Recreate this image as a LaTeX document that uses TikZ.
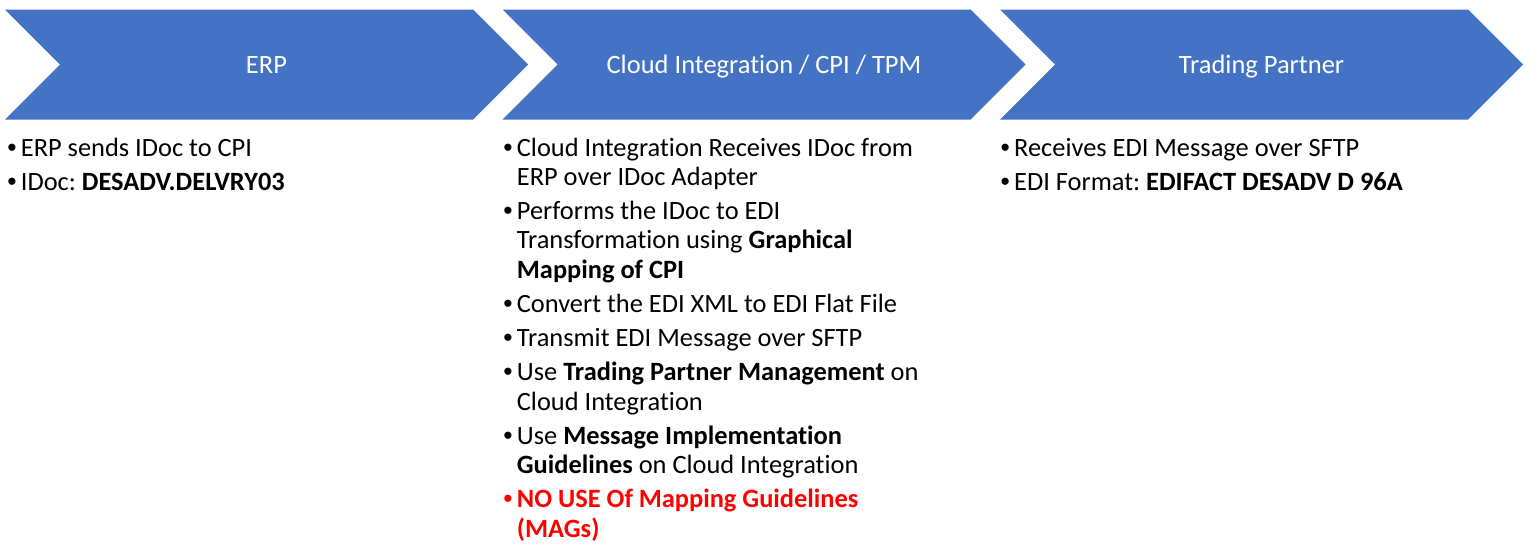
\documentclass[tikz,border=0pt]{standalone}
\usepackage{fontspec}
\setmainfont{Carlito}[Ligatures=NoCommon]
\newfontfamily\bulletfont{Liberation Sans}
\definecolor{chev}{HTML}{4472C4}
\definecolor{redt}{HTML}{FF0000}
\newcommand\bl{\makebox[13.5pt][l]{\bulletfont •}}
\newcommand\ind{\hspace*{13.5pt}}
\tikzset{
  chevron/.style={fill=chev},
  headlabel/.style={anchor=base, inner sep=0pt, text=white, font=\fontsize{26.5}{30}\selectfont},
  bodytext/.style={anchor=base west, inner sep=0pt, text=black}
}
\newcommand\colbox[1]{\parbox[t]{520pt}{\fontsize{26.4}{29.3}\selectfont\frenchspacing\raggedright #1}}
\begin{document}
\begin{tikzpicture}[x=1pt,y=-1pt]
\useasboundingbox (0,0) rectangle (1536,547);
% chevrons
\fill[chevron] (5,9.5) -- (473,9.5) -- (528,64.5) -- (473,119.5) -- (5,119.5) -- (60,64.5) -- cycle;
\fill[chevron] (502.5,9.5) -- (970.5,9.5) -- (1025.5,64.5) -- (970.5,119.5) -- (502.5,119.5) -- (557.5,64.5) -- cycle;
\fill[chevron] (1000,9.5) -- (1468,9.5) -- (1523,64.5) -- (1468,119.5) -- (1000,119.5) -- (1055,64.5) -- cycle;
\node[headlabel] (h1) at (266.5,73) {ERP};
\node[headlabel] (h2) at (764,73) {Cloud Integration / CPI / TPM};
\node[headlabel] (h3) at (1261.5,73) {Trading Partner};
% body
\node[bodytext] (b1) at (7.2,156) {\colbox{%
\bl ERP sends IDoc to CPI\\[4.9pt]
\bl IDoc: \textbf{DESADV.DELVRY03}}};
\node[bodytext] (b2) at (503.2,156) {\colbox{%
\bl Cloud Integration Receives IDoc from\\
\ind ERP over IDoc Adapter\\[4.9pt]
\bl Performs the IDoc to EDI\\
\ind Transformation using \textbf{Graphical}\\
\ind \textbf{Mapping of CPI}\\[4.9pt]
\bl Convert the EDI XML to EDI Flat File\\[4.9pt]
\bl Transmit EDI Message over SFTP\\[4.9pt]
\bl Use \textbf{Trading Partner Management} on\\
\ind Cloud Integration\\[4.9pt]
\bl Use \textbf{Message Implementation}\\
\ind \textbf{Guidelines} on Cloud Integration\\[4.9pt]
{\color{redt}\bl \textbf{NO USE Of Mapping Guidelines}}\\
\ind {\color{redt}\textbf{(MAGs)}}}};
\node[bodytext] (b3) at (1000.5,156) {\colbox{%
\bl Receives EDI Message over SFTP\\[4.9pt]
\bl EDI Format: \textbf{EDIFACT DESADV D 96A}}};
\end{tikzpicture}
\end{document}
